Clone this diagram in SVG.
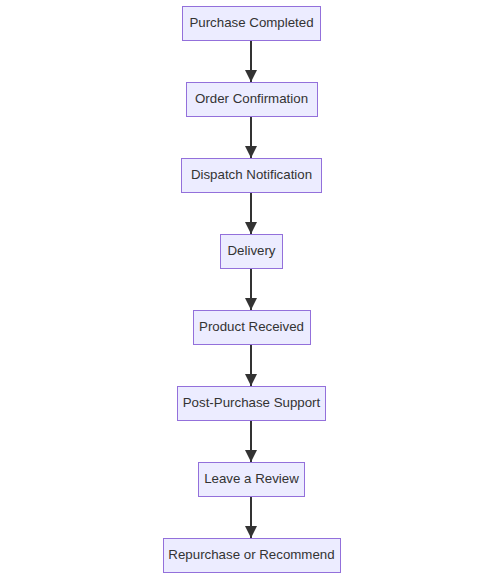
<svg xmlns="http://www.w3.org/2000/svg" width="500" height="578" viewBox="0 0 500 578">
<style>
.n rect{fill:#ECECFF;stroke:#9370DB;stroke-width:1}
.n text{font-family:"Liberation Sans",Arial,sans-serif;font-size:13.3px;fill:#333;text-anchor:middle;dominant-baseline:central}
.e path{stroke:#333;stroke-width:2;fill:none}
</style>
<defs>
<marker id="ah" viewBox="0 0 10 10" refX="10" refY="5" markerWidth="6" markerHeight="6" markerUnits="strokeWidth" orient="auto">
<path d="M0,0 L10,5 L0,10 z" fill="#333"/>
</marker>
</defs>
<rect width="500" height="578" fill="#fff"/>
<g class="e">
<path d="M251,40 V82" marker-end="url(#ah)"/>
<path d="M251,116 V158" marker-end="url(#ah)"/>
<path d="M251,192 V234" marker-end="url(#ah)"/>
<path d="M251,268 V310" marker-end="url(#ah)"/>
<path d="M251,344 V386" marker-end="url(#ah)"/>
<path d="M251,420 V462" marker-end="url(#ah)"/>
<path d="M251,496 V538" marker-end="url(#ah)"/>
</g>
<g id="n1" class="n"><rect x="182.5" y="6.5" width="138" height="34"/><text x="251.5" y="22">Purchase Completed</text></g>
<g id="n2" class="n"><rect x="186.5" y="82.5" width="131" height="34"/><text x="251.5" y="98">Order Confirmation</text></g>
<g id="n3" class="n"><rect x="181.5" y="158.5" width="140" height="34"/><text x="251.5" y="174">Dispatch Notification</text></g>
<g id="n4" class="n"><rect x="220.5" y="234.5" width="62" height="34"/><text x="251.5" y="250">Delivery</text></g>
<g id="n5" class="n"><rect x="193.5" y="310.5" width="117" height="34"/><text x="251.5" y="326">Product Received</text></g>
<g id="n6" class="n"><rect x="177.5" y="386.5" width="148" height="34"/><text x="251.5" y="402">Post-Purchase Support</text></g>
<g id="n7" class="n"><rect x="198.5" y="462.5" width="106" height="34"/><text x="251.5" y="478">Leave a Review</text></g>
<g id="n8" class="n"><rect x="163.5" y="538.5" width="177" height="34"/><text x="251.5" y="554">Repurchase or Recommend</text></g>
</svg>
